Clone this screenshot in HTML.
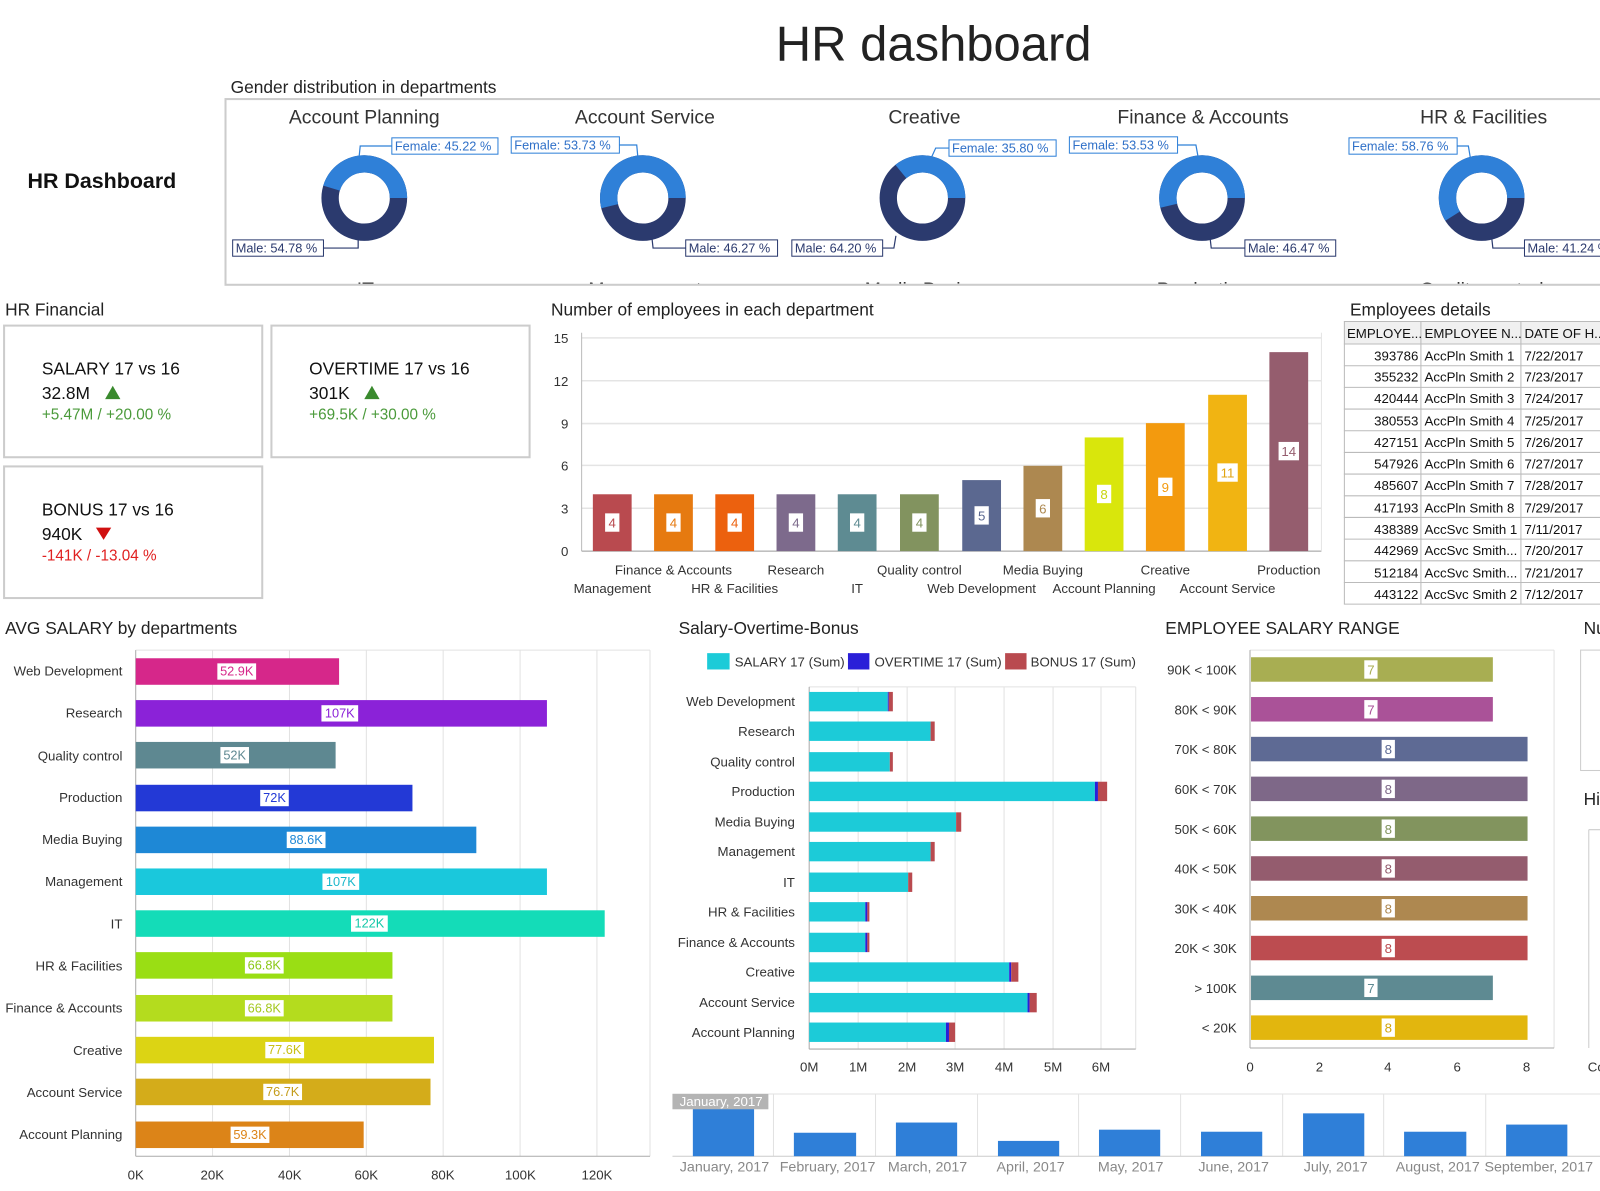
<!DOCTYPE html>
<html><head><meta charset="utf-8"><style>
html,body{margin:0;padding:0;background:#fff;}
svg{display:block;font-family:"Liberation Sans",sans-serif;}
</style></head><body>
<svg width="1600" height="1191" viewBox="0 0 1568 1167" xmlns="http://www.w3.org/2000/svg">
<rect width="1600" height="1191" fill="#fff"/>
<text x="915" y="59" font-size="48" text-anchor="middle" fill="#222">HR dashboard</text>

<!-- Gender distribution -->
<text x="226" y="91" font-size="17" fill="#222">Gender distribution in departments</text>
<rect x="221" y="97" width="1390" height="182" fill="none" stroke="#ccc" stroke-width="2"/>
<text x="27" y="184" font-size="21" font-weight="bold" fill="#111">HR Dashboard</text>
<g font-size="19" fill="#333" text-anchor="middle">
<text x="357" y="121">Account Planning</text>
<text x="632" y="121">Account Service</text>
<text x="906" y="121">Creative</text>
<text x="1179" y="121">Finance &amp; Accounts</text>
<text x="1454" y="121">HR &amp; Facilities</text>
</g>
<clipPath id="gc"><rect x="221" y="97" width="1380" height="181"/></clipPath>
<g font-size="19" fill="#333" text-anchor="middle" clip-path="url(#gc)">
<text x="358" y="290">IT</text>
<text x="632" y="290">Management</text>
<text x="905" y="290">Media Buying</text>
<text x="1179" y="290">Production</text>
<text x="1452" y="290">Quality control</text>
</g>
<g fill="none" stroke-width="17">
<circle cx="357" cy="194" r="33.5" stroke="#2b3a6e"/>
<circle cx="357" cy="194" r="33.5" stroke="#2f80d8" stroke-dasharray="95.2 300" transform="translate(0 388) scale(1 -1)"/>
<circle cx="630" cy="194" r="33.5" stroke="#2b3a6e"/>
<circle cx="630" cy="194" r="33.5" stroke="#2f80d8" stroke-dasharray="113.1 300" transform="translate(0 388) scale(1 -1)"/>
<circle cx="904" cy="194" r="33.5" stroke="#2b3a6e"/>
<circle cx="904" cy="194" r="33.5" stroke="#2f80d8" stroke-dasharray="75.4 300" transform="translate(0 388) scale(1 -1)"/>
<circle cx="1178" cy="194" r="33.5" stroke="#2b3a6e"/>
<circle cx="1178" cy="194" r="33.5" stroke="#2f80d8" stroke-dasharray="112.7 300" transform="translate(0 388) scale(1 -1)"/>
<circle cx="1452" cy="194" r="33.5" stroke="#2b3a6e"/>
<circle cx="1452" cy="194" r="33.5" stroke="#2f80d8" stroke-dasharray="123.7 300" transform="translate(0 388) scale(1 -1)"/>
</g>
<g fill="none" stroke-width="1.2">
<polyline points="384,143 353,143 352,153" stroke="#2f80d8"/>
<polyline points="317,243 351,243 351,234" stroke="#2b3a6e"/>
<polyline points="607,142 624,142 625,153" stroke="#2f80d8"/>
<polyline points="672,243 640,243 639,234" stroke="#2b3a6e"/>
<polyline points="930,145 917,145 912,156" stroke="#2f80d8"/>
<polyline points="865,243 876,243 878,231" stroke="#2b3a6e"/>
<polyline points="1154,142 1172,142 1174,153" stroke="#2f80d8"/>
<polyline points="1220,243 1187,243 1186,234" stroke="#2b3a6e"/>
<polyline points="1428,143 1439,143 1441,155" stroke="#2f80d8"/>
<polyline points="1494,243 1463,243 1462,234" stroke="#2b3a6e"/>
</g>
<g font-size="12.5">
<rect x="384" y="135" width="104" height="16" fill="#fff" stroke="#2f80d8"/><text x="387" y="147.5" fill="#2f70c8">Female: 45.22 %</text>
<rect x="228" y="235" width="89" height="16" fill="#fff" stroke="#2b3a6e"/><text x="231" y="247.5" fill="#2b3a6e">Male: 54.78 %</text>
<rect x="501" y="134" width="106" height="16" fill="#fff" stroke="#2f80d8"/><text x="504" y="146.5" fill="#2f70c8">Female: 53.73 %</text>
<rect x="672" y="235" width="90" height="16" fill="#fff" stroke="#2b3a6e"/><text x="675" y="247.5" fill="#2b3a6e">Male: 46.27 %</text>
<rect x="930" y="137" width="105" height="16" fill="#fff" stroke="#2f80d8"/><text x="933" y="149.5" fill="#2f70c8">Female: 35.80 %</text>
<rect x="776" y="235" width="89" height="16" fill="#fff" stroke="#2b3a6e"/><text x="779" y="247.5" fill="#2b3a6e">Male: 64.20 %</text>
<rect x="1048" y="134" width="106" height="16" fill="#fff" stroke="#2f80d8"/><text x="1051" y="146.5" fill="#2f70c8">Female: 53.53 %</text>
<rect x="1220" y="235" width="89" height="16" fill="#fff" stroke="#2b3a6e"/><text x="1223" y="247.5" fill="#2b3a6e">Male: 46.47 %</text>
<rect x="1322" y="135" width="106" height="16" fill="#fff" stroke="#2f80d8"/><text x="1325" y="147.5" fill="#2f70c8">Female: 58.76 %</text>
<rect x="1494" y="235" width="110" height="16" fill="#fff" stroke="#2b3a6e"/><text x="1497" y="247.5" fill="#2b3a6e">Male: 41.24 %</text>
</g>

<!-- HR Financial -->
<text x="5" y="309" font-size="17" fill="#222">HR Financial</text>
<g fill="none" stroke="#ccc" stroke-width="2">
<rect x="4" y="319" width="253" height="129"/><rect x="266" y="319" width="253" height="129"/><rect x="4" y="457" width="253" height="129"/>
</g>
<g font-size="17" fill="#111">
<text x="41" y="367">SALARY 17 vs 16</text><text x="41" y="391">32.8M</text>
<text x="303" y="367">OVERTIME 17 vs 16</text><text x="303" y="391">301K</text>
<text x="41" y="505">BONUS 17 vs 16</text><text x="41" y="529">940K</text>
</g>
<polygon points="103,391 118,391 110.5,378" fill="#3a8a2e"/>
<polygon points="357,391 372,391 364.5,378" fill="#3a8a2e"/>
<polygon points="94,517 109,517 101.5,529" fill="#d01010"/>
<g font-size="15" style="white-space:pre">
<text x="41" y="411" fill="#4a9a3a">+5.47M  /  +20.00 %</text>
<text x="303" y="411" fill="#4a9a3a">+69.5K  /  +30.00 %</text>
<text x="41" y="549" fill="#e02020">-141K  /  -13.04 %</text>
</g>

<!-- Number of employees -->
<text x="540" y="309" font-size="17" fill="#222">Number of employees in each department</text>
<g stroke="#e4e4e4" stroke-width="1.5">
<line x1="570" y1="331" x2="1295" y2="331"/><line x1="570" y1="373" x2="1295" y2="373"/><line x1="570" y1="415" x2="1295" y2="415"/><line x1="570" y1="456" x2="1295" y2="456"/><line x1="570" y1="498" x2="1295" y2="498"/>
</g>
<line x1="570" y1="326" x2="570" y2="540" stroke="#bbb"/>
<line x1="570" y1="540" x2="1295" y2="540" stroke="#999"/>
<line x1="1295" y1="326" x2="1295" y2="540" stroke="#e4e4e4"/>
<g font-size="13" fill="#333" text-anchor="end">
<text x="557" y="336">15</text><text x="557" y="378">12</text><text x="557" y="420">9</text><text x="557" y="461">6</text><text x="557" y="503">3</text><text x="557" y="545">0</text>
</g>
<g>
<rect x="581" y="484.3" width="38" height="55.7" fill="#b94a4f"/>
<rect x="641" y="484.3" width="38" height="55.7" fill="#e67a10"/>
<rect x="701" y="484.3" width="38" height="55.7" fill="#ec610e"/>
<rect x="761" y="484.3" width="38" height="55.7" fill="#7d6a8c"/>
<rect x="821" y="484.3" width="38" height="55.7" fill="#5e8b92"/>
<rect x="882" y="484.3" width="38" height="55.7" fill="#82935f"/>
<rect x="943" y="470.4" width="38" height="69.6" fill="#5b6890"/>
<rect x="1003" y="456.4" width="38" height="83.6" fill="#ad8850"/>
<rect x="1063" y="428.6" width="38" height="111.4" fill="#d9e60c"/>
<rect x="1123" y="414.6" width="38" height="125.4" fill="#f39a0e"/>
<rect x="1184" y="386.8" width="38" height="153.2" fill="#f1b412"/>
<rect x="1244" y="345" width="38" height="195" fill="#955d6e"/>
</g>
<g fill="#fff">
<rect x="593" y="503" width="14" height="18"/><rect x="653" y="503" width="14" height="18"/><rect x="713" y="503" width="14" height="18"/><rect x="773" y="503" width="14" height="18"/><rect x="833" y="503" width="14" height="18"/><rect x="894" y="503" width="14" height="18"/><rect x="955" y="496" width="14" height="18"/><rect x="1015" y="489" width="14" height="18"/><rect x="1075" y="475" width="14" height="18"/><rect x="1135" y="468" width="14" height="18"/><rect x="1193" y="454" width="20" height="18"/><rect x="1253" y="433" width="20" height="18"/>
</g>
<g font-size="13" text-anchor="middle">
<text x="600" y="517" fill="#b94a4f">4</text><text x="660" y="517" fill="#e67a10">4</text><text x="720" y="517" fill="#ec610e">4</text><text x="780" y="517" fill="#7d6a8c">4</text><text x="840" y="517" fill="#5e8b92">4</text><text x="901" y="517" fill="#82935f">4</text><text x="962" y="510" fill="#5b6890">5</text><text x="1022" y="503" fill="#ad8850">6</text><text x="1082" y="489" fill="#c8d40c">8</text><text x="1142" y="482" fill="#f39a0e">9</text><text x="1203" y="468" fill="#e1a412">11</text><text x="1263" y="447" fill="#955d6e">14</text>
</g>
<g font-size="13" fill="#333" text-anchor="middle">
<text x="660" y="563">Finance &amp; Accounts</text><text x="780" y="563">Research</text><text x="901" y="563">Quality control</text><text x="1022" y="563">Media Buying</text><text x="1142" y="563">Creative</text><text x="1263" y="563">Production</text>
<text x="600" y="581">Management</text><text x="720" y="581">HR &amp; Facilities</text><text x="840" y="581">IT</text><text x="962" y="581">Web Development</text><text x="1082" y="581">Account Planning</text><text x="1203" y="581">Account Service</text>
</g>

<!-- Employees details -->
<text x="1323" y="309" font-size="17" fill="#222">Employees details</text>
<rect x="1317" y="315" width="290" height="22" fill="#f0f0f0"/>
<g stroke="#bbb" stroke-width="1">
<line x1="1317" y1="315" x2="1600" y2="315"/>
<line x1="1317" y1="337" x2="1600" y2="337"/><line x1="1317" y1="358.3" x2="1600" y2="358.3"/><line x1="1317" y1="379.5" x2="1600" y2="379.5"/><line x1="1317" y1="400.8" x2="1600" y2="400.8"/><line x1="1317" y1="422" x2="1600" y2="422"/><line x1="1317" y1="443.3" x2="1600" y2="443.3"/><line x1="1317" y1="464.5" x2="1600" y2="464.5"/><line x1="1317" y1="485.8" x2="1600" y2="485.8"/><line x1="1317" y1="507" x2="1600" y2="507"/><line x1="1317" y1="528.3" x2="1600" y2="528.3"/><line x1="1317" y1="549.5" x2="1600" y2="549.5"/><line x1="1317" y1="570.8" x2="1600" y2="570.8"/><line x1="1317" y1="592" x2="1600" y2="592"/>
<line x1="1317.5" y1="315" x2="1317.5" y2="592"/><line x1="1392.5" y1="315" x2="1392.5" y2="592"/><line x1="1490.5" y1="315" x2="1490.5" y2="592"/>
</g>
<g font-size="13" fill="#111">
<text x="1320" y="331">EMPLOYE...</text><text x="1396" y="331">EMPLOYEE N...</text><text x="1494" y="331">DATE OF H...</text>
</g>
<g font-size="13" fill="#111" text-anchor="end">
<text x="1390" y="353">393786</text><text x="1390" y="374">355232</text><text x="1390" y="395">420444</text><text x="1390" y="417">380553</text><text x="1390" y="438">427151</text><text x="1390" y="459">547926</text><text x="1390" y="480">485607</text><text x="1390" y="502">417193</text><text x="1390" y="523">438389</text><text x="1390" y="544">442969</text><text x="1390" y="566">512184</text><text x="1390" y="587">443122</text>
</g>
<g font-size="13" fill="#111">
<text x="1396" y="353">AccPln Smith 1</text><text x="1396" y="374">AccPln Smith 2</text><text x="1396" y="395">AccPln Smith 3</text><text x="1396" y="417">AccPln Smith 4</text><text x="1396" y="438">AccPln Smith 5</text><text x="1396" y="459">AccPln Smith 6</text><text x="1396" y="480">AccPln Smith 7</text><text x="1396" y="502">AccPln Smith 8</text><text x="1396" y="523">AccSvc Smith 1</text><text x="1396" y="544">AccSvc  Smith...</text><text x="1396" y="566">AccSvc  Smith...</text><text x="1396" y="587">AccSvc Smith 2</text>
<text x="1494" y="353">7/22/2017</text><text x="1494" y="374">7/23/2017</text><text x="1494" y="395">7/24/2017</text><text x="1494" y="417">7/25/2017</text><text x="1494" y="438">7/26/2017</text><text x="1494" y="459">7/27/2017</text><text x="1494" y="480">7/28/2017</text><text x="1494" y="502">7/29/2017</text><text x="1494" y="523">7/11/2017</text><text x="1494" y="544">7/20/2017</text><text x="1494" y="566">7/21/2017</text><text x="1494" y="587">7/12/2017</text>
</g>

<!-- AVG SALARY -->
<text x="5" y="621" font-size="17" fill="#222">AVG SALARY by departments</text>
<g stroke="#e2e2e2" stroke-width="1">
<line x1="208.3" y1="637" x2="208.3" y2="1133"/><line x1="283.7" y1="637" x2="283.7" y2="1133"/><line x1="359" y1="637" x2="359" y2="1133"/><line x1="434.3" y1="637" x2="434.3" y2="1133"/><line x1="509.7" y1="637" x2="509.7" y2="1133"/><line x1="585" y1="637" x2="585" y2="1133"/><line x1="637" y1="637" x2="637" y2="1133"/>
<line x1="133" y1="637" x2="637" y2="637"/>
</g>
<line x1="133" y1="637" x2="133" y2="1133" stroke="#aaa"/>
<line x1="133" y1="1133" x2="637" y2="1133" stroke="#aaa"/>
<g>
<rect x="133" y="645" width="199.3" height="26" fill="#d6278a"/>
<rect x="133" y="686" width="403" height="26" fill="#8b22d8"/>
<rect x="133" y="727" width="195.9" height="26" fill="#5e8891"/>
<rect x="133" y="769" width="271.2" height="26" fill="#2339d6"/>
<rect x="133" y="810" width="333.8" height="26" fill="#1e88d6"/>
<rect x="133" y="851" width="403" height="26" fill="#1ac8dc"/>
<rect x="133" y="892" width="459.6" height="26" fill="#14dcb8"/>
<rect x="133" y="933" width="251.6" height="26" fill="#9ade14"/>
<rect x="133" y="975" width="251.6" height="26" fill="#b4dc1e"/>
<rect x="133" y="1016" width="292.3" height="26" fill="#dcd414"/>
<rect x="133" y="1057" width="288.9" height="26" fill="#d4ac1a"/>
<rect x="133" y="1099" width="223.4" height="26" fill="#dc8418"/>
</g>
<g fill="#fff">
<rect x="213" y="650" width="38" height="16"/><rect x="315" y="691" width="36" height="16"/><rect x="216" y="732" width="28" height="16"/><rect x="255" y="774" width="28" height="16"/><rect x="281" y="815" width="38" height="16"/><rect x="316" y="856" width="36" height="16"/><rect x="344" y="897" width="36" height="16"/><rect x="240" y="938" width="38" height="16"/><rect x="240" y="980" width="38" height="16"/><rect x="260" y="1021" width="38" height="16"/><rect x="258" y="1062" width="38" height="16"/><rect x="226" y="1104" width="38" height="16"/>
</g>
<g font-size="12.5" text-anchor="middle">
<text x="232" y="662" fill="#d6278a">52.9K</text><text x="333" y="703" fill="#8b22d8">107K</text><text x="230" y="744" fill="#5e8891">52K</text><text x="269" y="786" fill="#2339d6">72K</text><text x="300" y="827" fill="#1e88d6">88.6K</text><text x="334" y="868" fill="#1ab8cc">107K</text><text x="362" y="909" fill="#14c8a8">122K</text><text x="259" y="950" fill="#8ac814">66.8K</text><text x="259" y="992" fill="#a4c81e">66.8K</text><text x="279" y="1033" fill="#c8c014">77.6K</text><text x="277" y="1074" fill="#c49c1a">76.7K</text><text x="245" y="1116" fill="#dc8418">59.3K</text>
</g>
<g font-size="13" fill="#333" text-anchor="end">
<text x="120" y="662">Web Development</text><text x="120" y="703">Research</text><text x="120" y="745">Quality control</text><text x="120" y="786">Production</text><text x="120" y="827">Media Buying</text><text x="120" y="868">Management</text><text x="120" y="910">IT</text><text x="120" y="951">HR &amp; Facilities</text><text x="120" y="992">Finance &amp; Accounts</text><text x="120" y="1034">Creative</text><text x="120" y="1075">Account Service</text><text x="120" y="1116">Account Planning</text>
</g>
<g font-size="13" fill="#333" text-anchor="middle">
<text x="133" y="1156">0K</text><text x="208" y="1156">20K</text><text x="284" y="1156">40K</text><text x="359" y="1156">60K</text><text x="434" y="1156">80K</text><text x="510" y="1156">100K</text><text x="585" y="1156">120K</text>
</g>

<!-- Salary-Overtime-Bonus -->
<text x="665" y="621" font-size="17" fill="#222">Salary-Overtime-Bonus</text>
<rect x="693" y="640" width="22" height="16" fill="#1ccbd8"/><text x="720" y="653" font-size="13" fill="#333">SALARY 17 (Sum)</text>
<rect x="831" y="640" width="21" height="16" fill="#2a1fd8"/><text x="857" y="653" font-size="13" fill="#333">OVERTIME 17 (Sum)</text>
<rect x="985" y="640" width="21" height="16" fill="#b94a4f"/><text x="1010" y="653" font-size="13" fill="#333">BONUS 17 (Sum)</text>
<g stroke="#e2e2e2">
<line x1="841" y1="673" x2="841" y2="1028"/><line x1="889" y1="673" x2="889" y2="1028"/><line x1="936" y1="673" x2="936" y2="1028"/><line x1="984" y1="673" x2="984" y2="1028"/><line x1="1032" y1="673" x2="1032" y2="1028"/><line x1="1079" y1="673" x2="1079" y2="1028"/><line x1="1113" y1="673" x2="1113" y2="1028"/><line x1="793" y1="673" x2="1113" y2="673"/>
</g>
<line x1="793" y1="673" x2="793" y2="1028" stroke="#aaa"/><line x1="793" y1="1028" x2="1113" y2="1028" stroke="#aaa"/>
<g>
<rect x="793" y="678" width="77" height="19" fill="#1ccbd8"/><rect x="870" y="678" width="1" height="19" fill="#2a1fd8"/><rect x="871" y="678" width="4" height="19" fill="#b94a4f"/>
<rect x="793" y="707" width="119" height="19" fill="#1ccbd8"/><rect x="912" y="707" width="4" height="19" fill="#b94a4f"/>
<rect x="793" y="737" width="79" height="19" fill="#1ccbd8"/><rect x="872" y="737" width="3" height="19" fill="#b94a4f"/>
<rect x="793" y="766" width="280" height="19" fill="#1ccbd8"/><rect x="1073" y="766" width="3" height="19" fill="#2a1fd8"/><rect x="1076" y="766" width="9" height="19" fill="#b94a4f"/>
<rect x="793" y="796" width="144" height="19" fill="#1ccbd8"/><rect x="937" y="796" width="5" height="19" fill="#b94a4f"/>
<rect x="793" y="825" width="119" height="19" fill="#1ccbd8"/><rect x="912" y="825" width="4" height="19" fill="#b94a4f"/>
<rect x="793" y="855" width="97" height="19" fill="#1ccbd8"/><rect x="890" y="855" width="4" height="19" fill="#b94a4f"/>
<rect x="793" y="884" width="55" height="19" fill="#1ccbd8"/><rect x="848" y="884" width="2" height="19" fill="#2a1fd8"/><rect x="850" y="884" width="2" height="19" fill="#b94a4f"/>
<rect x="793" y="914" width="55" height="19" fill="#1ccbd8"/><rect x="848" y="914" width="2" height="19" fill="#2a1fd8"/><rect x="850" y="914" width="2" height="19" fill="#b94a4f"/>
<rect x="793" y="943" width="196" height="19" fill="#1ccbd8"/><rect x="989" y="943" width="2" height="19" fill="#2a1fd8"/><rect x="991" y="943" width="7" height="19" fill="#b94a4f"/>
<rect x="793" y="973" width="214" height="19" fill="#1ccbd8"/><rect x="1007" y="973" width="2" height="19" fill="#2a1fd8"/><rect x="1009" y="973" width="7" height="19" fill="#b94a4f"/>
<rect x="793" y="1002" width="134" height="19" fill="#1ccbd8"/><rect x="927" y="1002" width="3" height="19" fill="#2a1fd8"/><rect x="930" y="1002" width="6" height="19" fill="#b94a4f"/>
</g>
<g font-size="13" fill="#333" text-anchor="end">
<text x="779" y="692">Web Development</text><text x="779" y="721">Research</text><text x="779" y="751">Quality control</text><text x="779" y="780">Production</text><text x="779" y="810">Media Buying</text><text x="779" y="839">Management</text><text x="779" y="869">IT</text><text x="779" y="898">HR &amp; Facilities</text><text x="779" y="928">Finance &amp; Accounts</text><text x="779" y="957">Creative</text><text x="779" y="987">Account Service</text><text x="779" y="1016">Account Planning</text>
</g>
<g font-size="13" fill="#333" text-anchor="middle">
<text x="793" y="1050">0M</text><text x="841" y="1050">1M</text><text x="889" y="1050">2M</text><text x="936" y="1050">3M</text><text x="984" y="1050">4M</text><text x="1032" y="1050">5M</text><text x="1079" y="1050">6M</text>
</g>

<!-- Employee salary range -->
<text x="1142" y="621" font-size="17" fill="#222">EMPLOYEE SALARY RANGE</text>
<g stroke="#e2e2e2">
<line x1="1225" y1="637" x2="1523" y2="637"/><line x1="1523" y1="637" x2="1523" y2="1027"/>
</g>
<line x1="1225" y1="637" x2="1225" y2="1027" stroke="#aaa"/><line x1="1225" y1="1027" x2="1523" y2="1027" stroke="#aaa"/>
<g>
<rect x="1226" y="644" width="237" height="24" fill="#a8ae52"/>
<rect x="1226" y="683" width="237" height="24" fill="#aa5298"/>
<rect x="1226" y="722" width="271" height="24" fill="#5e6a94"/>
<rect x="1226" y="761" width="271" height="24" fill="#7e6888"/>
<rect x="1226" y="800" width="271" height="24" fill="#82945e"/>
<rect x="1226" y="839" width="271" height="24" fill="#945c6e"/>
<rect x="1226" y="878" width="271" height="24" fill="#ae8850"/>
<rect x="1226" y="917" width="271" height="24" fill="#bc4c50"/>
<rect x="1226" y="956" width="237" height="24" fill="#5e8a92"/>
<rect x="1226" y="995" width="271" height="24" fill="#e2b60e"/>
</g>
<g fill="#fff">
<rect x="1337" y="647" width="13" height="18"/><rect x="1337" y="686" width="13" height="18"/><rect x="1354" y="725" width="13" height="18"/><rect x="1354" y="764" width="13" height="18"/><rect x="1354" y="803" width="13" height="18"/><rect x="1354" y="842" width="13" height="18"/><rect x="1354" y="881" width="13" height="18"/><rect x="1354" y="920" width="13" height="18"/><rect x="1337" y="959" width="13" height="18"/><rect x="1354" y="998" width="13" height="18"/>
</g>
<g font-size="13" text-anchor="middle">
<text x="1343.5" y="661" fill="#a8ae52">7</text><text x="1343.5" y="700" fill="#aa5298">7</text><text x="1360.5" y="739" fill="#5e6a94">8</text><text x="1360.5" y="778" fill="#7e6888">8</text><text x="1360.5" y="817" fill="#82945e">8</text><text x="1360.5" y="856" fill="#945c6e">8</text><text x="1360.5" y="895" fill="#ae8850">8</text><text x="1360.5" y="934" fill="#bc4c50">8</text><text x="1343.5" y="973" fill="#5e8a92">7</text><text x="1360.5" y="1012" fill="#d2a60e">8</text>
</g>
<g font-size="13" fill="#333" text-anchor="end">
<text x="1212" y="661">90K &lt; 100K</text><text x="1212" y="700">80K &lt; 90K</text><text x="1212" y="739">70K &lt; 80K</text><text x="1212" y="778">60K &lt; 70K</text><text x="1212" y="817">50K &lt; 60K</text><text x="1212" y="856">40K &lt; 50K</text><text x="1212" y="895">30K &lt; 40K</text><text x="1212" y="934">20K &lt; 30K</text><text x="1212" y="973">&gt; 100K</text><text x="1212" y="1012">&lt; 20K</text>
</g>
<g font-size="13" fill="#333" text-anchor="middle">
<text x="1225" y="1050">0</text><text x="1293" y="1050">2</text><text x="1360" y="1050">4</text><text x="1428" y="1050">6</text><text x="1496" y="1050">8</text>
</g>

<!-- right edge partial -->
<text x="1552" y="621" font-size="17" fill="#222">Nu</text>
<rect x="1549" y="637" width="60" height="118" fill="none" stroke="#ccc"/>
<text x="1552" y="789" font-size="17" fill="#222">Hi</text>
<line x1="1557" y1="813" x2="1557" y2="1027" stroke="#ccc"/><line x1="1557" y1="813" x2="1600" y2="813" stroke="#ccc"/>
<text x="1556" y="1050" font-size="13" fill="#333">Co</text>

<!-- timeline -->
<g stroke="#e2e2e2">
<line x1="659" y1="1072" x2="1600" y2="1072"/>
<line x1="758" y1="1072" x2="758" y2="1133"/><line x1="858" y1="1072" x2="858" y2="1133"/><line x1="958" y1="1072" x2="958" y2="1133"/><line x1="1057" y1="1072" x2="1057" y2="1133"/><line x1="1157" y1="1072" x2="1157" y2="1133"/><line x1="1257" y1="1072" x2="1257" y2="1133"/><line x1="1356" y1="1072" x2="1356" y2="1133"/><line x1="1456" y1="1072" x2="1456" y2="1133"/>
</g>
<line x1="659" y1="1133" x2="1600" y2="1133" stroke="#ccc"/>
<g fill="#2f7fd8">
<rect x="679" y="1084" width="60" height="49"/><rect x="778" y="1110" width="61" height="23"/><rect x="878" y="1100" width="60" height="33"/><rect x="978" y="1118" width="60" height="15"/><rect x="1077" y="1107" width="60" height="26"/><rect x="1177" y="1109" width="60" height="24"/><rect x="1277" y="1091" width="60" height="42"/><rect x="1376" y="1109" width="61" height="24"/><rect x="1476" y="1102" width="60" height="31"/>
</g>
<rect x="659" y="1072" width="94" height="15" fill="#b4b4b4"/>
<text x="666" y="1084" font-size="13" fill="#fff">January, 2017</text>
<g font-size="14" fill="#888" text-anchor="middle">
<text x="710" y="1148">January, 2017</text><text x="811" y="1148">February, 2017</text><text x="909" y="1148">March, 2017</text><text x="1010" y="1148">April, 2017</text><text x="1108" y="1148">May, 2017</text><text x="1209" y="1148">June, 2017</text><text x="1309" y="1148">July, 2017</text><text x="1409" y="1148">August, 2017</text><text x="1508" y="1148">September, 2017</text>
</g>
</svg>
</body></html>
